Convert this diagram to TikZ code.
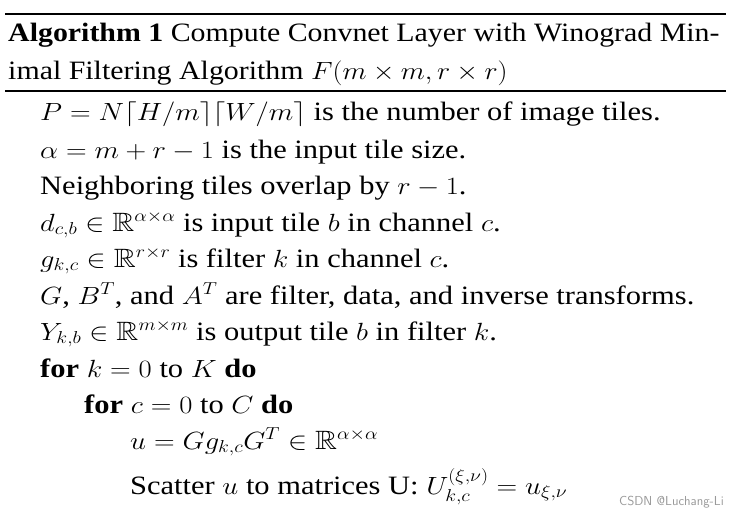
\documentclass[tikz,border=0pt]{standalone}
\usepackage{amsmath,amssymb}
\usepackage{fontspec}
\setmainfont{Liberation Serif}
\begin{document}
\begin{tikzpicture}[x=1pt,y=-1pt,
  ln/.style={anchor=base west,inner sep=0pt,font=\fontsize{26.5}{30}\selectfont,xscale=1.15,transform shape}]
\useasboundingbox (0,0) rectangle (736,519);
\fill[white] (0,0) rectangle (736,519);
\draw[line width=2.5pt] (5,14) -- (726,14);
\draw[line width=1.2pt] (5,91) -- (726,91);
\node[ln,xscale=0.98] (t1) at (8,42) {\textbf{Algorithm 1} Compute Convnet Layer with Winograd Min-};
\node[ln,xscale=0.98] (t2) at (8,80) {imal Filtering Algorithm $F(m\times m, r\times r)$};
\node[ln] (l1) at (40,120) {$P = N\lceil H/m\rceil\lceil W/m\rceil$ is the number of image tiles.};
\node[ln] (l2) at (40,158) {$\alpha = m+r-1$ is the input tile size.};
\node[ln] (l3) at (40,194) {Neighboring tiles overlap by $r-1$.};
\node[ln] (l4) at (40,231) {$d_{c,b}\in\mathbb{R}^{\alpha\times\alpha}$ is input tile $b$ in channel $c$.};
\node[ln] (l5) at (40,267) {$g_{k,c}\in\mathbb{R}^{r\times r}$ is filter $k$ in channel $c$.};
\node[ln] (l6) at (40,304) {$G$, $B^T$, and $A^T$ are filter, data, and inverse transforms.};
\node[ln] (l7) at (40,340) {$Y_{k,b}\in\mathbb{R}^{m\times m}$ is output tile $b$ in filter $k$.};
\node[ln] (l8) at (40,377) {\textbf{for} $k=0$ to $K$ \textbf{do}};
\node[ln] (l9) at (84,413) {\textbf{for} $c=0$ to $C$ \textbf{do}};
\node[ln] (l10) at (130,449) {$u = Gg_{k,c}G^T\in\mathbb{R}^{\alpha\times\alpha}$};
\node[ln] (l11) at (130,494) {Scatter $u$ to matrices U: $U_{k,c}^{(\xi,\nu)} = u_{\xi,\nu}$};
\node[anchor=base east,inner sep=0pt,text=gray!80,font=\fontsize{13}{15}\selectfont\sffamily] (wm) at (724,505) {CSDN @Luchang-Li};
\end{tikzpicture}
\end{document}
